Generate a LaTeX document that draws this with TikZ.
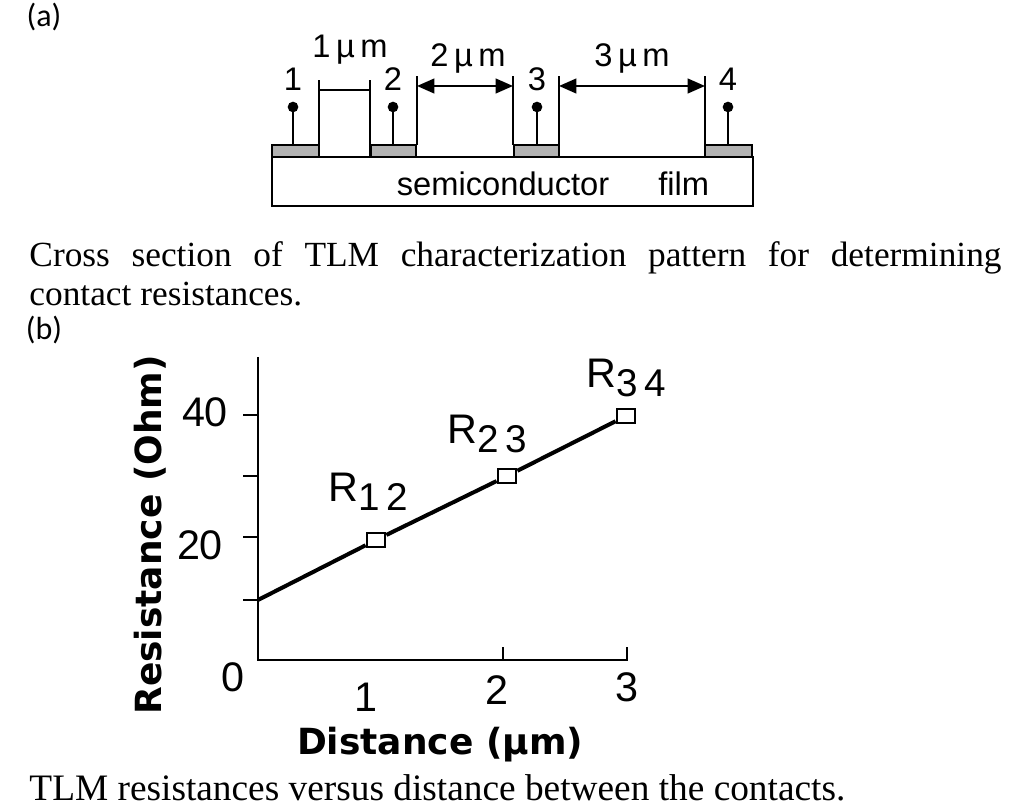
\documentclass[tikz,border=0pt]{standalone}
\usepackage{fontspec}
\setmainfont{Liberation Serif}
\setsansfont{Liberation Sans}
\newfontfamily\carlitof{Carlito}
\newfontfamily\dvfont{DejaVu Sans}
\usetikzlibrary{arrows.meta,patterns}
\begin{document}
\begin{tikzpicture}[x=0.75pt,y=-0.75pt,line width=2.2pt,
  lab/.style={font=\sffamily\fontsize{24.5}{24.5}\selectfont,inner sep=0pt},
  contact/.style={draw,fill=gray!60,line width=1.3pt},
  dim/.style={{Triangle[length=13pt,width=11pt]}-{Triangle[length=13pt,width=11pt]},line width=1.6pt},
  ext/.style={line width=1.6pt},
  captxt/.style={font=\fontsize{26.5}{26.5}\selectfont,inner sep=0pt,anchor=west},
  tk/.style={font=\sffamily\fontsize{31}{31}\selectfont,inner sep=0pt},
  sq/.style={draw,fill=white,line width=1.6pt,minimum width=14pt,minimum height=10.5pt,inner sep=0pt}]
\useasboundingbox (0,0) rectangle (1024,812);
% (a)
\node[font=\carlitof\fontsize{24}{24}\selectfont,inner sep=0pt] (la) at (44,17) {(a)};
\draw[line width=1.7pt] (272,157) rectangle (753,206);
\node[lab] (film) at (553,184) {semiconductor\hspace{1.5em}film};
\foreach \a/\b in {272/319,371/416,514/559,705/752}
  \draw[contact] (\a,145) rectangle (\b,157);
\foreach \x/\t in {293/1,393/2,537/3,728/4}{
  \draw[line width=1.6pt] (\x,145) -- (\x,107);
  \fill (\x,107) circle (4pt);
  \node[lab] at (\x,79) {\t};}
\coordinate (e1) at (319,90); \coordinate (e2) at (370,90);
\draw[ext] (319,157) -- (319,80) (370,157) -- (370,80);
\draw[ext] (e1) -- (e2);
\node[lab] (d1) at (350,50) {1\,µ\,m};
\draw[ext] (417,145) -- (417,76) (513,145) -- (513,76);
\coordinate (f1) at (417,86); \coordinate (f2) at (513,86);
\draw[dim] (f1) -- (f2);
\node[lab] (d2) at (468,58) {2\,µ\,m};
\draw[ext] (559,145) -- (559,76) (705,145) -- (705,76);
\coordinate (g1) at (559,86); \coordinate (g2) at (705,86);
\draw[dim] (g1) -- (g2);
\node[lab] (d3) at (632,58) {3\,µ\,m};
\node[captxt] (c1) at (28,258) {\hbox to 729pt{Cross\hfill section\hfill of\hfill TLM\hfill characterization\hfill pattern\hfill for\hfill determining}};
\node[captxt] (c2) at (28,294) {contact resistances.};
% (b)
\node[font=\carlitof\fontsize{24}{24}\selectfont,inner sep=0pt] (lb) at (44,330) {(b)};
\coordinate (O) at (258,660);
\draw (258,357) -- (O) -- (628,660);
\foreach \y in {415,476,537,600} \draw (243,\y) -- (258,\y);
\foreach \x in {503,627} \draw (\x,647) -- (\x,660);
\node[sq] (p1) at (376,540) {};
\node[sq] (p2) at (507,476) {};
\node[sq] (p3) at (626,416) {};
\coordinate (s) at (258,600);
\draw[line width=3pt] (s) -- (p1) -- (p2) -- (p3);
\foreach \x/\y/\t in {205/412/40,200/545/20,233/677/0,366/697/1,497/690/2,627/687/3}
  \node[tk] at (\x,\y) {\t};
\node[tk] (r1) at (368,492) {R\raisebox{-7pt}{\fontsize{29}{29}\selectfont 1\,2}};
\node[tk] (r2) at (487,434) {R\raisebox{-7pt}{\fontsize{29}{29}\selectfont 2\,3}};
\node[tk] (r3) at (626,378) {R\raisebox{-7pt}{\fontsize{29}{29}\selectfont 3\,4}};
\node[font=\dvfont\bfseries\fontsize{27}{27}\selectfont,rotate=90,inner sep=0pt] (yl) at (150,535) {Resistance (Ohm)};
\node[font=\dvfont\bfseries\fontsize{27}{27}\selectfont,inner sep=0pt] (xl) at (440,745) {Distance (µm)};
\node[captxt,font=\fontsize{28}{28}\selectfont] (c3) at (28,788) {TLM resistances versus distance between the contacts.};
\end{tikzpicture}
\end{document}
